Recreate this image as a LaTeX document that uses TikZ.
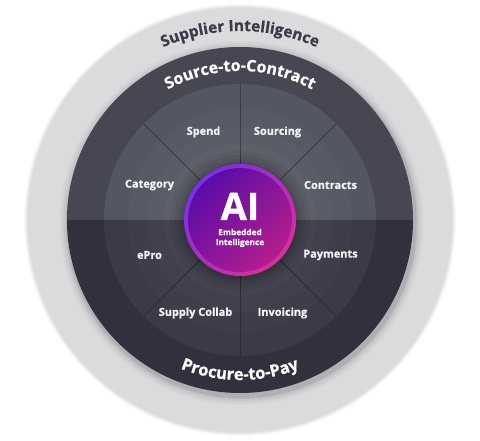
\documentclass[tikz,border=0pt]{standalone}
\usepackage{fontspec}
\setmainfont{Open Sans}[BoldFeatures={FakeBold=0.8}]
\usetikzlibrary{decorations.text}
\definecolor{ringgrey}{HTML}{DBDBDE}
\definecolor{bandtop}{HTML}{464752}
\definecolor{bandbot}{HTML}{30313C}
\definecolor{innertop}{HTML}{545661}
\definecolor{innerbot}{HTML}{3A3B46}
\definecolor{spoketop}{HTML}{3B3C46}
\definecolor{spokebot}{HTML}{2A2B34}
\definecolor{labeltext}{HTML}{F2F2F4}
\definecolor{outertext}{HTML}{3A3B47}
\definecolor{aiviolet}{HTML}{7A2FE8}
\definecolor{aipink}{HTML}{DC2E9C}
\definecolor{aivioletdark}{HTML}{5A0CA8}
\definecolor{aipinkdark}{HTML}{B41E8C}
\tikzset{
  seglabel/.style={text=labeltext, font=\bfseries\fontsize{11}{12}\selectfont, inner sep=0pt},
  spokeT/.style={draw=spoketop, line width=0.9pt},
  spokeB/.style={draw=spokebot, line width=0.9pt},
}
\begin{document}
\begin{tikzpicture}[x=1bp,y=1bp]
\useasboundingbox[fill=white] (-240,-221) rectangle (240,220);
% outer grey ring with soft edge
\foreach \r/\o in {216/0.15,215/0.25,214/0.4,213/0.6}{\fill[ringgrey,opacity=\o] (0,0) circle[radius=\r bp];}
\fill[ringgrey] (0,0) circle[radius=212bp];
% shadow of the dark disc
\foreach \r/\o in {182/0.02,180/0.03,178/0.04,176/0.05,175/0.06}{\fill[black,opacity=\o] (1.5,-3) circle[radius=\r bp];}
% dark band halves
\fill[bandtop] (0:173bp) arc[start angle=0,end angle=180,radius=173bp] -- cycle;
\fill[bandbot] (180:173bp) arc[start angle=180,end angle=360,radius=173bp] -- cycle;
% inner disc halves with subtle rings
\fill[innertop] (0:136bp) arc[start angle=0,end angle=180,radius=136bp] -- cycle;
\fill[innerbot] (180:136bp) arc[start angle=180,end angle=360,radius=136bp] -- cycle;
\foreach \r/\o in {112/0.018,92/0.018,76/0.018}{
  \fill[white,opacity=\o] (0:\r bp) arc[start angle=0,end angle=180,radius=\r bp] -- cycle;
  \fill[white,opacity=\o] (180:\r bp) arc[start angle=180,end angle=360,radius=\r bp] -- cycle;}
% spokes
\foreach \a in {45,90,135}{\draw[spokeT] (\a:56bp) -- (\a:136bp);}
\foreach \a in {225,270,315}{\draw[spokeB] (\a:56bp) -- (\a:136bp);}
% halo around AI disc
\foreach \r/\o in {70/0.04,66/0.05,62/0.06,59/0.08}{\fill[black,opacity=\o] (0,-1) circle[radius=\r bp];}
% AI disc
\shade[top color=aiviolet,bottom color=aipink,shading angle=45] (0,0) circle[radius=56bp];
\shade[top color=aivioletdark,bottom color=aipinkdark,shading angle=45] (0,0) circle[radius=52bp];
\node[text=white,font=\bfseries\fontsize{38}{38}\selectfont,anchor=base,inner sep=0pt] (ai) at (0,0) {AI};
\node[text=white,font=\bfseries\fontsize{8.3}{10}\selectfont,align=center,inner sep=0pt] (emb) at (0,-18) {Embedded\\Intelligence};
% segment labels
\node[seglabel] (spend) at (-36.5,88) {Spend};
\node[seglabel] (sourcing) at (37.5,88) {Sourcing};
\node[seglabel] (category) at (-90.5,35) {Category};
\node[seglabel] (contracts) at (90.5,35) {Contracts};
\node[seglabel] (epro) at (-90.5,-35) {ePro};
\node[seglabel] (payments) at (90.5,-35) {Payments};
\node[seglabel] (supply) at (-44.5,-93) {Supply Collab};
\node[seglabel] (invoicing) at (42.5,-93) {Invoicing};
% curved titles
\path[decorate,decoration={text along path,text align=center,text color=outertext,
  text={|\bfseries\fontsize{15.5}{15.5}\selectfont|Supplier Intelligence}}]
  (150:189bp) arc[start angle=150,end angle=30,radius=189bp];
\path[decorate,decoration={text along path,text align=center,text color=white,
  text={|\bfseries\fontsize{16}{16}\selectfont|Source-to-Contract}}]
  (150:149bp) arc[start angle=150,end angle=30,radius=149bp];
\path[decorate,decoration={text along path,text align=center,text color=white,
  text={|\bfseries\fontsize{16.5}{16.5}\selectfont|Procure-to-Pay}}]
  (210:160bp) arc[start angle=210,end angle=330,radius=160bp];
\end{tikzpicture}
\end{document}
